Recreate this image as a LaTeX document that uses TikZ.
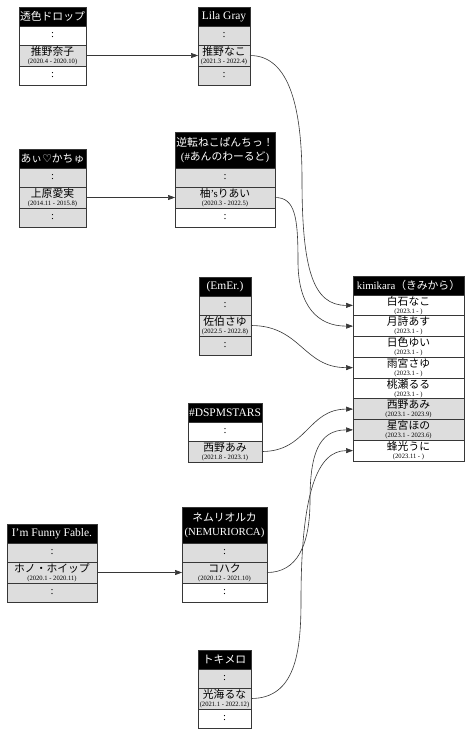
\documentclass[tikz,border=0pt]{standalone}
\usepackage{fontspec}
\setmainfont{Liberation Serif}
\newfontfamily\jpfont{Noto Sans CJK JP}
\newfontfamily\symfont{DejaVu Sans}
\usepackage{tikz}
\usetikzlibrary{positioning, arrows.meta}
\definecolor{cellgray}{RGB}{221,221,221}
\definecolor{edgegray}{RGB}{55,55,55}
\newcommand{\lat}[1]{{\rmfamily #1}}
\newcommand{\period}[1]{\\[-4pt]{\rmfamily\fontsize{6.6}{7}\selectfont (#1)}}

\begin{document}
\begin{tikzpicture}[
    x=1pt, y=-1pt,
    cell/.style={rectangle, draw=edgegray, line width=0.8pt, inner sep=0pt, outer sep=0pt, minimum height=19pt, align=center, font=\jpfont\fontsize{10.8}{12}\selectfont},
    head/.style={cell, fill=black, text=white},
    lathead/.style={head, font=\rmfamily\fontsize{11.5}{13}\selectfont},
    plain/.style={cell, fill=white},
    shaded/.style={cell, fill=cellgray},
    member/.style={minimum height=21pt},
    link/.style={-{Triangle[length=7pt, width=5pt]}, line width=0.6pt, edgegray},
]

\path[fill=white, use as bounding box] (0,0) rectangle (474,737);

% 透色ドロップ
\node[head, minimum width=67pt, anchor=north] (tomeiro) at (52.5,7) {透色ドロップ};
\node[plain, minimum width=67pt, below=0pt of tomeiro] (tomeiro1) {\lat{:}};
\node[shaded, member, minimum width=67pt, below=0pt of tomeiro1] (nasako) {推野奈子\period{2020.4 - 2020.10}};
\node[plain, minimum width=67pt, below=0pt of nasako] (tomeiro3) {\lat{:}};

% Lila Gray
\node[lathead, minimum width=52pt, anchor=north] (lila) at (224,7) {Lila Gray};
\node[shaded, minimum width=52pt, below=0pt of lila] (lila1) {\lat{:}};
\node[shaded, member, minimum width=52pt, below=0pt of lila1] (lnako) {推野なこ\period{2021.3 - 2022.4}};
\node[shaded, minimum width=52pt, below=0pt of lnako] (lila3) {\lat{:}};

% あぃ♡かちゅ
\node[head, minimum width=67pt, anchor=north] (aikachu) at (52.5,149) {あぃ{\symfont ♡}かちゅ};
\node[shaded, minimum width=67pt, below=0pt of aikachu] (aikachu1) {\lat{:}};
\node[shaded, member, minimum width=67pt, below=0pt of aikachu1] (uehara) {上原愛実\period{2014.11 - 2015.8}};
\node[shaded, minimum width=67pt, below=0pt of uehara] (aikachu3) {\lat{:}};

% 逆転ねこぱんちっ！ - two line header
\node[head, minimum width=100pt, minimum height=36pt, anchor=north] (gyakuten) at (225,132) {逆転ねこぱんちっ！\\[2pt]\lat{(\#}あんのわーるど\lat{)}};
\node[shaded, minimum width=100pt, below=0pt of gyakuten] (gyakuten1) {\lat{:}};
\node[shaded, member, minimum width=100pt, below=0pt of gyakuten1] (yuzu) {柚\lat{'s}りあい\period{2020.3 - 2022.5}};
\node[plain, minimum width=100pt, below=0pt of yuzu] (gyakuten3) {\lat{:}};

% (EmEr.)
\node[lathead, minimum width=52pt, anchor=north] (emer) at (225,277) {(EmEr.)};
\node[shaded, minimum width=52pt, below=0pt of emer] (emer1) {\lat{:}};
\node[shaded, member, minimum width=52pt, below=0pt of emer1] (saeki) {佐伯さゆ\period{2022.5 - 2022.8}};
\node[shaded, minimum width=52pt, below=0pt of saeki] (emer3) {\lat{:}};

% #DSPMSTARS
\node[lathead, minimum width=74pt, anchor=north] (dspm) at (225,403) {\#DSPMSTARS};
\node[plain, minimum width=74pt, below=0pt of dspm] (dspm1) {\lat{:}};
\node[shaded, member, minimum width=74pt, below=0pt of dspm1] (dnishino) {西野あみ\period{2021.8 - 2023.1}};

% kimikara - the target group
\node[head, minimum width=111pt, anchor=north] (kimikara) at (408.5,276) {\lat{kimikara}（きみから）};
\node[plain, minimum width=111pt, minimum height=20.75pt, below=0pt of kimikara] (kshiraishi) {白石なこ\period{2023.1 - }};
\node[plain, minimum width=111pt, minimum height=20.75pt, below=0pt of kshiraishi] (ktsukuta) {月詩あす\period{2023.1 - }};
\node[plain, minimum width=111pt, minimum height=20.75pt, below=0pt of ktsukuta] (khiiro) {日色ゆい\period{2023.1 - }};
\node[plain, minimum width=111pt, minimum height=20.75pt, below=0pt of khiiro] (kamamiya) {雨宮さゆ\period{2023.1 - }};
\node[plain, minimum width=111pt, minimum height=20.75pt, below=0pt of kamamiya] (kmomose) {桃瀬るる\period{2023.1 - }};
\node[shaded, minimum width=111pt, minimum height=20.75pt, below=0pt of kmomose] (knishino) {西野あみ\period{2023.1 - 2023.9}};
\node[shaded, minimum width=111pt, minimum height=20.75pt, below=0pt of knishino] (khoshimiya) {星宮ほの\period{2023.1 - 2023.6}};
\node[plain, minimum width=111pt, minimum height=20.75pt, below=0pt of khoshimiya] (khachimitsu) {蜂光うに\period{2023.11 - }};

% I'm Funny Fable.
\node[lathead, minimum width=90pt, anchor=north] (funny) at (52,524) {I'm Funny Fable.};
\node[shaded, minimum width=90pt, below=0pt of funny] (funny1) {\lat{:}};
\node[shaded, member, minimum width=90pt, below=0pt of funny1] (hono) {ホノ・ホイップ\period{2020.1 - 2020.11}};
\node[shaded, minimum width=90pt, below=0pt of hono] (funny3) {\lat{:}};

% ネムリオルカ - two line header
\node[head, minimum width=85pt, minimum height=36pt, anchor=north] (nemuri) at (224.5,507) {ネムリオルカ\\[2pt]\lat{(NEMURIORCA)}};
\node[shaded, minimum width=85pt, below=0pt of nemuri] (nemuri1) {\lat{:}};
\node[shaded, member, minimum width=85pt, below=0pt of nemuri1] (kohaku) {コハク\period{2020.12 - 2021.10}};
\node[plain, minimum width=85pt, below=0pt of kohaku] (nemuri3) {\lat{:}};

% トキメロ
\node[head, minimum width=53pt, anchor=north] (tokimero) at (224.5,650) {トキメロ};
\node[shaded, minimum width=53pt, below=0pt of tokimero] (tokimero1) {\lat{:}};
\node[shaded, member, minimum width=53pt, below=0pt of tokimero1] (mitsumi) {光海るな\period{2021.1 - 2022.12}};
\node[plain, minimum width=53pt, below=0pt of mitsumi] (tokimero3) {\lat{:}};

% moves between groups
\draw[link] (nasako.east) -- (lnako.west);
\draw[link] (uehara.east) -- (yuzu.west);
\draw[link] (hono.east) -- (kohaku.west);

\draw[link] (lnako.east) .. controls +(40,0) and +(0,-70) .. ++(52,124) .. controls +(0,90) and +(-40,0) .. (kshiraishi.west);
\draw[link] (yuzu.east) .. controls +(20,0) and +(0,-45) .. ++(23,64) .. controls +(0,45) and +(-35,0) .. (ktsukuta.west);
\draw[link] (saeki.east) .. controls +(50,0) and +(-50,0) .. (kamamiya.west);
\draw[link] (dnishino.east) .. controls +(45,0) and +(-45,0) .. (knishino.west);
\draw[link] (kohaku.east) .. controls +(30,0) and +(0,45) .. ++(43,-72) .. controls +(0,-45) and +(-35,0) .. (khoshimiya.west);
\draw[link] (mitsumi.east) .. controls +(45,0) and +(0,50) .. ++(50,-98) .. controls +(0,-110) and +(-35,0) .. (khachimitsu.west);

\end{tikzpicture}
\end{document}
